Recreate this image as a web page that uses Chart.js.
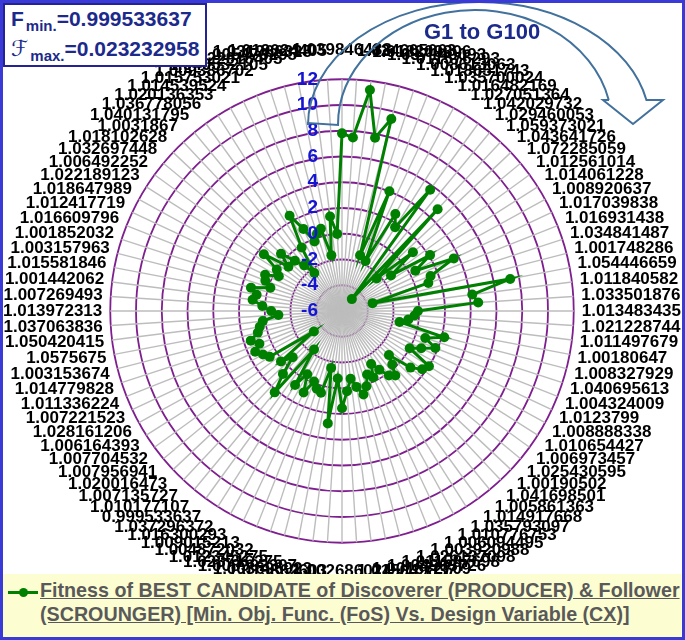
<!DOCTYPE html>
<html>
<head>
<meta charset="utf-8">
<title>Fitness of best candidate - radar</title>
<script src="https://cdn.jsdelivr.net/npm/chart.js@4.4.1/dist/chart.umd.min.js"></script>
<style>
  html, body { margin: 0; padding: 0; background: #fff; }
  #frame { position: relative; width: 685px; height: 640px; overflow: hidden; background: #fff; }
  #chartCanvas { position: absolute; left: 0; top: 0; }
  #border { position: absolute; left: 0; top: 0; width: 685px; height: 640px; box-sizing: border-box;
            border: 3px solid #3a3ad6; pointer-events: none; }
  #fitBox { position: absolute; left: 3px; top: 3px; width: 204px; height: 64px; box-sizing: border-box;
            border: 2px solid #232396; background: #fff; color: #1c2a8c;
            font: bold 21px "Liberation Sans", Arial, sans-serif; line-height: 28px; padding: 0 0 0 6px; white-space: nowrap; }
  #fitBox .sub { font-size: 15px; position: relative; top: 5px; margin-left: 2px; }
  #fitBox .script { font-family: "DejaVu Sans", serif; font-weight: normal; font-size: 22px; }
  #genLabel { position: absolute; left: 424px; top: 19px; color: #1c2a8c;
              font: bold 22px "Liberation Sans", Arial, sans-serif; white-space: nowrap; }
  #legendBox { position: absolute; left: 3px; top: 574px; width: 679px; height: 63px; background: #fdfdd2; }
  #legendMarker { position: absolute; left: 5px; top: 17px; width: 30px; height: 3px; background: #008000; }
  #legendDot { position: absolute; left: 16px; top: 14px; width: 9px; height: 9px; border-radius: 50%; background: #008000; }
  #legendText { position: absolute; left: 37px; top: 4px; color: #595959; line-height: 24px;
                font-weight: bold; font-family: "Liberation Sans Narrow", "Liberation Sans", Arial, sans-serif;
                font-size: 20px; text-decoration: underline; white-space: nowrap; }
</style>
</head>
<body>
<div id="frame">
  <canvas id="chartCanvas" width="685" height="640"></canvas>
  <div id="fitBox">
    <div>F<span class="sub">min.</span>=0.999533637</div>
    <div><span class="script">ℱ</span><span class="sub">max.</span>=0.023232958</div>
  </div>
  <div id="genLabel">G1 to G100</div>
  <div id="legendBox">
    <div id="legendMarker"></div>
    <div id="legendDot"></div>
    <div id="legendText"></div>
  </div>
  <div id="border"></div>
</div>
<script>
// Category labels: FoS of each generation's best candidate, clockwise from the top
const categoryLabels = [
  "1.039846488", "1.024605063", "1.018209306", "1.037140093", "1.011576293",
  "1.008613063", "1.018651743", "1.035700024", "1.016482169", "1.027051364",
  "1.042029732", "1.029460053", "1.059373021", "1.043641726", "1.072285059",
  "1.012561014", "1.014061228", "1.008920637", "1.017039838", "1.016931438",
  "1.034841487", "1.001748286", "1.054446659", "1.011840582", "1.033501876",
  "1.013483435", "1.021228744", "1.011497679", "1.00180647", "1.008327929",
  "1.040695613", "1.004324009", "1.0123799", "1.008888338", "1.010654427",
  "1.006973457", "1.025430595", "1.00190502", "1.041698501", "1.005861363",
  "1.014917668", "1.035793097", "1.010776753", "1.006094495", "1.003920988",
  "1.026137098", "1.011587698", "1.004963726", "1.001872709", "1.015049837",
  "1.002686024", "1.019862603", "1.003696923", "1.008902307", "1.023716275",
  "1.012345275", "1.004872032", "1.009015213", "1.016300293", "1.037296372",
  "0.999533637", "1.010177107", "1.007135727", "1.020016473", "1.007956941",
  "1.007704532", "1.006164393", "1.028161206", "1.007221523", "1.011336224",
  "1.014779828", "1.003153674", "1.0575675", "1.050420415", "1.037063836",
  "1.013972313", "1.007269493", "1.001442062", "1.015581846", "1.003157963",
  "1.001852032", "1.016609796", "1.012417719", "1.018647989", "1.022189123",
  "1.006492252", "1.032697448", "1.018102628", "1.0031867", "1.040131795",
  "1.036778056", "1.020136353", "1.014539524", "1.015753021", "1.009386702",
  "1.040532105", "1.022918405", "1.005473295", "1.031966325", "1.019024405"
];

// Design variable (CX) of the best candidate, G1..G100
const seriesValues = [
  7.8, 7.5, 11.3, 7.7, 9.4, -1.45, 4.0, -1.7, 2.6, 1.7,
  5.65, -4.8, 4.85, -2.3, 1.15, -1.3, 2.1, 0.5, 3.6, 1.4,
  1.05, -3.55, 7.3, 4.2, 4.6, -0.1, -0.35, -0.8, -1.45, 2.2,
  0.8, 1.8, 0.8, 0.0, 2.0, 1.7, 0.9, -1.0, -0.3, 0.5,
  0.2, -0.6, -1.3, -0.3, -0.7, 0.15, 0.7, 0.0, -0.7, 0.25,
  1.55, -0.75, 2.8, -1.5, 0.55, 0.35, -0.1, 1.0, -0.4, 0.8,
  -2.3, 2.2, 0.7, -0.75, 0.15, -3.3, 0.65, 1.0, 1.45, 0.9,
  1.45, 0.75, 0.5, 0.2, -1.05, -0.5, 0.2, 1.0, 0.75, 1.3,
  -0.15, 0.4, 0.6, -0.4, 0.0, 1.5, -0.6, 0.5, -0.65, -1.4,
  -2.35, -0.15, 2.45, 1.05, -0.2, 0.3, 0.6, -1.6, 1.4, 0.0
];

const tickMin = -6;
const tickMax = 12;
const tickStep = 2;

const seriesName = "Fitness of BEST CANDIDATE of Discoverer (PRODUCER) & Follower (SCROUNGER) [Min. Obj. Func. (FoS) Vs. Design Variable (CX)]";
const legendLines = [
  "Fitness of BEST CANDIDATE of Discoverer (PRODUCER) & Follower",
  "(SCROUNGER) [Min. Obj. Func. (FoS) Vs. Design Variable (CX)]"
];

const labelFont = 'bold 17px "Liberation Sans", Arial, sans-serif';

// Legend text: two lines, scaled so the first line spans the box like the original
function renderLegend() {
  const legendEl = document.getElementById("legendText");
  legendEl.innerHTML = legendLines.map((t) => `<div>${t}</div>`).join("");
  const firstLine = legendEl.firstChild;
  const w = firstLine.getBoundingClientRect().width;
  if (w > 0) {
    const size = 20 * 640 / w;
    legendEl.style.fontSize = size.toFixed(2) + "px";
  }
}

// Point labels: drawn by hand so they sit evenly round the circle
// (Chart.js still lays them out invisibly to size the radius)
const pointLabelPlugin = {
  id: "pointLabelsEven",
  beforeDatasetsDraw(chart) {
    const scale = chart.scales.r;
    const ctx = chart.ctx;
    const n = chart.data.labels.length;
    ctx.save();
    ctx.font = labelFont;
    ctx.fillStyle = "#000";
    ctx.textBaseline = "middle";
    chart.data.labels.forEach((label, i) => {
      const angle = (i / n) * 2 * Math.PI;
      const p = scale.getPointPosition(i, scale.drawingArea + 8);
      const s = Math.sin(angle);
      const c = Math.cos(angle);
      ctx.textAlign = Math.abs(s) < 1e-6 ? "center" : (s > 0 ? "left" : "right");
      // a little extra lift near the top and drop near the bottom
      const shift = 13 * c + 8 * c * Math.pow(Math.abs(c), 6);
      ctx.fillText(label, p.x, p.y - shift);
    });
    ctx.restore();
  }
};

// Tick labels are drawn left of the vertical axis, in blue
const tickLabelPlugin = {
  id: "tickLabels",
  afterDatasetsDraw(chart) {
    const scale = chart.scales.r;
    const ctx = chart.ctx;
    ctx.save();
    ctx.font = 'bold 19px "Liberation Sans", Arial, sans-serif';
    ctx.fillStyle = "#1414d2";
    ctx.textAlign = "right";
    ctx.textBaseline = "middle";
    scale.ticks.forEach((tick) => {
      const d = scale.getDistanceFromCenterForValue(tick.value);
      ctx.fillText(tick.label, scale.xCenter - 24, scale.yCenter - d);
    });
    ctx.restore();
  }
};

// Curved "G1 to G100" arrow outline
const arrowPlugin = {
  id: "curvedArrow",
  afterDraw(chart) {
    const ctx = chart.ctx;
    ctx.save();
    ctx.strokeStyle = "#41719c";
    ctx.lineWidth = 2;
    ctx.beginPath();
    ctx.moveTo(308, 123);
    ctx.ellipse(479, 125, 171, 123, 0, Math.PI, 2 * Math.PI - 0.205, false);
    ctx.lineTo(663, 100);
    ctx.lineTo(633, 124);
    ctx.lineTo(603, 100);
    ctx.lineTo(609, 100);
    ctx.ellipse(475, 125, 137, 115, 0, 2 * Math.PI - 0.219, Math.PI, true);
    ctx.closePath();
    ctx.stroke();
    ctx.restore();
  }
};

function renderChart() {
  const ctx = document.getElementById("chartCanvas");
  new Chart(ctx, {
    type: "radar",
    data: {
      labels: categoryLabels,
      datasets: [
        {
          label: seriesName,
          data: seriesValues,
          borderColor: "#008000",
          backgroundColor: "#008000",
          borderWidth: 3,
          pointRadius: 5,
          pointHoverRadius: 5,
          pointBackgroundColor: "#008000",
          pointBorderColor: "#008000",
          pointBorderWidth: 0,
          fill: false,
          tension: 0
        }
      ]
    },
    options: {
      responsive: false,
      animation: false,
      layout: { padding: { top: 40, bottom: 58, left: 3, right: 3 } },
      plugins: {
        legend: { display: false },
        tooltip: { enabled: false }
      },
      scales: {
        r: {
          min: tickMin,
          max: tickMax,
          beginAtZero: false,
          ticks: { display: false, stepSize: tickStep },
          grid: { circular: true, color: "#7f1f8f", lineWidth: 1.8 },
          angleLines: { color: "#bdbdbd", lineWidth: 1.4 },
          pointLabels: {
            color: "rgba(0,0,0,0)",
            padding: 8,
            font: { family: '"Liberation Sans", Arial, sans-serif', size: 17, weight: "bold" }
          }
        }
      }
    },
    plugins: [pointLabelPlugin, tickLabelPlugin, arrowPlugin]
  });
}

renderLegend();
renderChart();
</script>
</body>
</html>
